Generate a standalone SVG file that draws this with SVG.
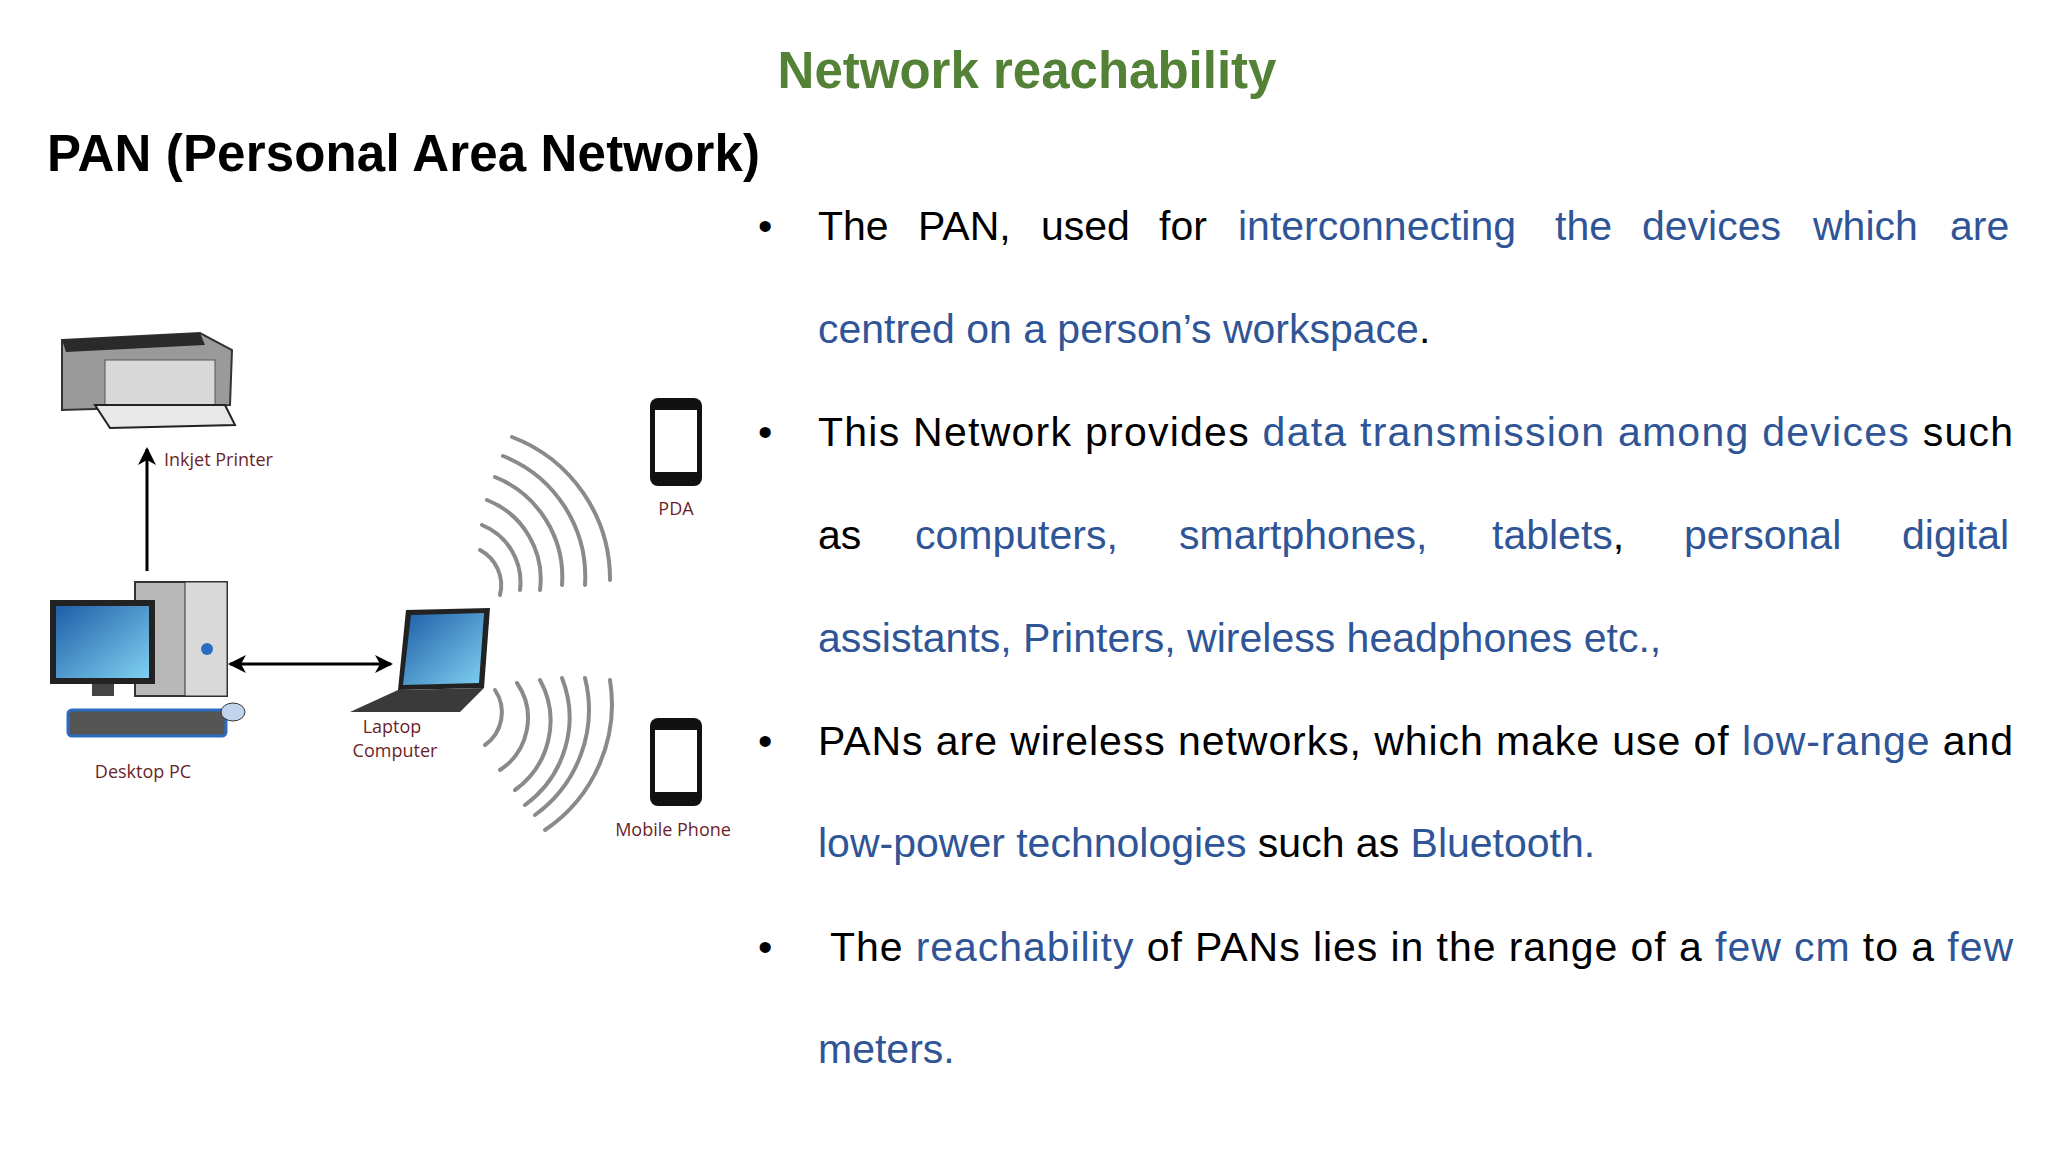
<svg xmlns="http://www.w3.org/2000/svg" width="2048" height="1152" viewBox="0 0 2048 1152">
<style>
.t{font-family:"Liberation Sans",Arial,sans-serif;font-size:41px;fill:#000}
.b{fill:#2F5597}
.lbl{font-family:"Open Sans","Liberation Sans",sans-serif;font-size:18px;fill:#6b1f2a}
.wave{fill:none;stroke:#8a8a8a;stroke-width:4;stroke-linecap:round}
.con{stroke:#000;stroke-width:3;fill:none}
</style>
<defs>
<marker id="ah" markerWidth="18" markerHeight="18" refX="16" refY="9" orient="auto-start-reverse" markerUnits="userSpaceOnUse" viewBox="0 0 18 18"><path d="M0,0 L18,9 L0,18 L5,9z" fill="#000"/></marker>
<linearGradient id="scr" x1="0" y1="0" x2="1" y2="1"><stop offset="0" stop-color="#1e5fa8"/><stop offset="1" stop-color="#7fd0f0"/></linearGradient>
</defs>
<rect width="2048" height="1152" fill="#fff"/>
<text x="1027" y="88" text-anchor="middle" style="font-family:'Liberation Sans',Arial,sans-serif;font-weight:bold;font-size:51px;fill:#538135">Network reachability</text>
<text x="47" y="171" textLength="713" style="font-family:'Liberation Sans',Arial,sans-serif;font-weight:bold;font-size:51px;fill:#000">PAN (Personal Area Network)</text>

<g id="text-body" class="t">
<text x="758" y="240">•</text><text x="758" y="446">•</text><text x="758" y="755">•</text><text x="758" y="961">•</text>
<text y="240"><tspan x="818">The</tspan><tspan x="918">PAN,</tspan><tspan x="1041">used</tspan><tspan x="1159">for</tspan><tspan class="b" x="1238">interconnecting</tspan><tspan class="b" x="1555">the</tspan><tspan class="b" x="1642">devices</tspan><tspan class="b" x="1813">which</tspan><tspan class="b" x="1950">are</tspan></text>
<text y="343" x="818"><tspan class="b">centred on a person’s workspace</tspan>.</text>
<text y="446" x="818" textLength="1195" lengthAdjust="spacing">This Network provides <tspan class="b">data transmission among devices</tspan> such</text>
<text y="549"><tspan x="818">as</tspan><tspan class="b" x="915">computers,</tspan><tspan class="b" x="1179">smartphones,</tspan><tspan class="b" x="1492">tablets</tspan>,<tspan class="b" x="1684">personal</tspan><tspan class="b" x="1902">digital</tspan></text>
<text y="652" x="818" class="b">assistants, Printers, wireless headphones etc.,</text>
<text y="755" x="818" textLength="1195" lengthAdjust="spacing">PANs are wireless networks, which make use of <tspan class="b">low-range</tspan> and</text>
<text y="857" x="818"><tspan class="b">low-power technologies</tspan> such as <tspan class="b">Bluetooth.</tspan></text>
<text y="961" x="830" textLength="1183" lengthAdjust="spacing">The <tspan class="b">reachability</tspan> of PANs lies in the range of a <tspan class="b">few cm</tspan> to a <tspan class="b">few</tspan></text>
<text y="1063" x="818" class="b">meters.</text>
</g>

<g id="connectors">
<line class="con" x1="147" y1="571" x2="147" y2="449" marker-end="url(#ah)"/>
<line class="con" x1="230" y1="664" x2="391" y2="664" marker-start="url(#ah)" marker-end="url(#ah)"/>
<g id="waves-up">
<path class="wave" d="M480,550 A40,40 0 0 1 500,595"/>
<path class="wave" d="M482,525 A62,62 0 0 1 520,590"/>
<path class="wave" d="M487,500 A85,85 0 0 1 540,590"/>
<path class="wave" d="M495,477 A108,108 0 0 1 562,585"/>
<path class="wave" d="M503,456 A130,130 0 0 1 585,585" stroke="#a5a5a5"/>
<path class="wave" d="M512,437 A152,152 0 0 1 610,580" stroke="#c8c8c8"/>
</g>
<g id="waves-down">
<path class="wave" d="M495,690 A40,40 0 0 1 485,745"/>
<path class="wave" d="M517,683 A62,62 0 0 1 500,770"/>
<path class="wave" d="M540,680 A85,85 0 0 1 515,790"/>
<path class="wave" d="M562,678 A108,108 0 0 1 525,805"/>
<path class="wave" d="M585,678 A130,130 0 0 1 535,815" stroke="#a5a5a5"/>
<path class="wave" d="M610,680 A152,152 0 0 1 545,830" stroke="#c8c8c8"/>
</g>
</g>

<g id="printer">
<path d="M62,340 L200,333 L232,350 L230,405 L62,410z" fill="#9a9a9a" stroke="#333" stroke-width="2"/>
<path d="M62,340 L200,333 L205,345 L66,352z" fill="#2a2a2a"/>
<rect x="105" y="360" width="110" height="45" fill="#d8d8d8" stroke="#555"/>
<path d="M95,405 L225,405 L235,425 L110,428z" fill="#e8e8e8" stroke="#222" stroke-width="2"/>
<text class="lbl" x="164" y="466">Inkjet Printer</text>
</g>
<g id="desktop">
<rect x="135" y="582" width="92" height="114" fill="#b8b8b8" stroke="#333" stroke-width="2"/>
<rect x="185" y="582" width="42" height="114" fill="#d9d9d9" stroke="#333"/>
<circle cx="207" cy="649" r="6" fill="#2a6cc0"/>
<rect x="50" y="600" width="105" height="84" fill="#222"/>
<rect x="56" y="606" width="93" height="72" fill="url(#scr)"/>
<rect x="92" y="684" width="22" height="12" fill="#444"/>
<rect x="68" y="710" width="158" height="26" rx="4" fill="#555" stroke="#2a6cc0" stroke-width="3"/>
<ellipse cx="233" cy="712" rx="12" ry="9" fill="#c0d4ec" stroke="#333"/>
<text class="lbl" x="143" y="778" text-anchor="middle">Desktop PC</text>
</g>
<g id="laptop">
<path d="M406,610 L490,608 L484,688 L398,690z" fill="#222"/>
<path d="M411,615 L484,613 L479,683 L403,685z" fill="url(#scr)"/>
<path d="M398,690 L484,688 L460,712 L350,712z" fill="#3a3a3a"/>
<text class="lbl" x="392" y="733" text-anchor="middle">Laptop</text>
<text class="lbl" x="395" y="757" text-anchor="middle">Computer</text>
</g>
<g id="pda">
<rect x="650" y="398" width="52" height="88" rx="8" fill="#111"/>
<rect x="655" y="410" width="42" height="62" fill="#fff"/>
<text class="lbl" x="676" y="515" text-anchor="middle">PDA</text>
</g>
<g id="mobile">
<rect x="650" y="718" width="52" height="88" rx="8" fill="#111"/>
<rect x="655" y="730" width="42" height="62" fill="#fff"/>
<text class="lbl" x="673" y="836" text-anchor="middle">Mobile Phone</text>
</g>
</svg>
